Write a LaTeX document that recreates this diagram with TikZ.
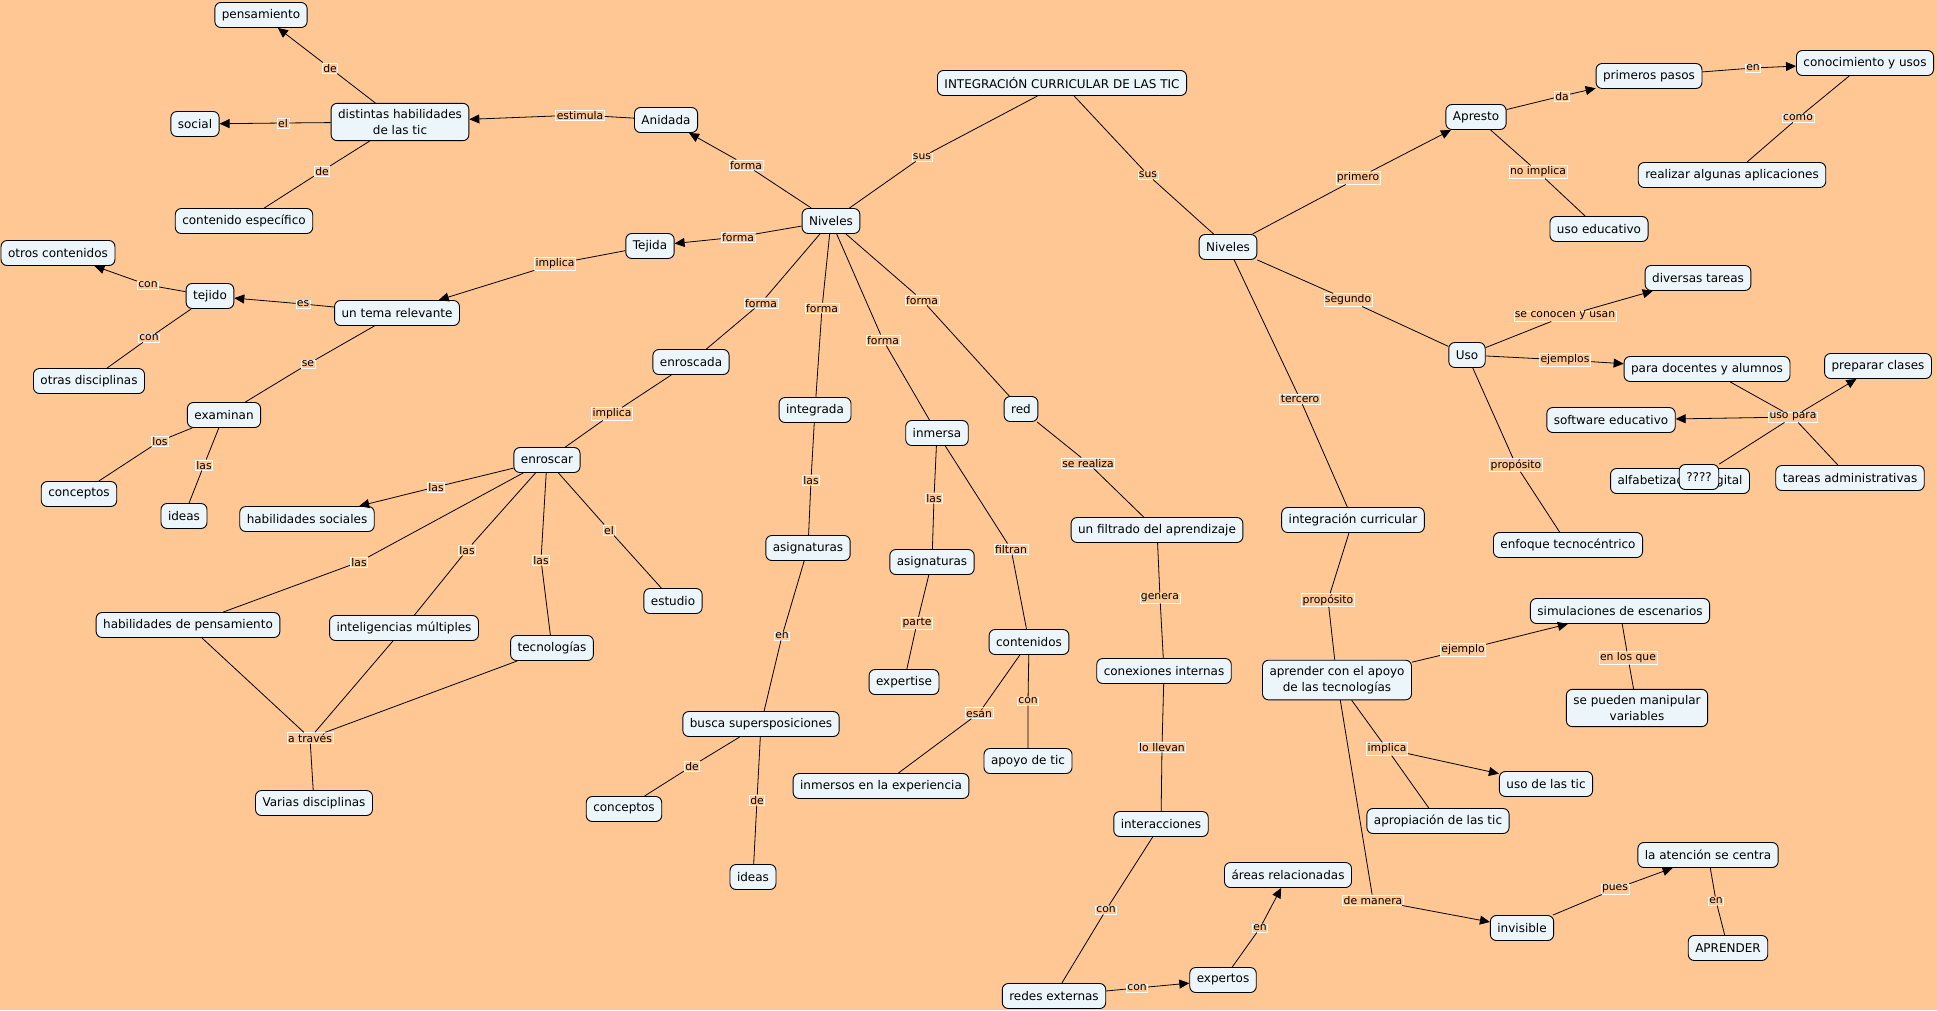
\documentclass[tikz,border=0pt]{standalone}
\usepackage{fontspec}
\setmainfont{DejaVu Sans}
\usepackage{xcolor}
\usetikzlibrary{arrows.meta}
\definecolor{bgPeach}{RGB}{255,199,148}
\definecolor{boxFill}{RGB}{236,245,250}

\begin{document}
\begin{tikzpicture}[
  x=1pt, y=-1pt,
  conceptBox/.style={draw, rounded corners=6pt, fill=boxFill, line width=0.9pt,
                     font=\fontsize{12}{16}\selectfont, inner xsep=7pt,
                     inner ysep=6pt, minimum height=25pt, align=center},
  linkText/.style={draw=white, fill=bgPeach, line width=0.6pt,
                   font=\fontsize{10.8}{12}\selectfont, inner xsep=1pt, inner ysep=1pt},
  >={Triangle[length=10pt,width=9pt]}
]
  % Page and background
  \useasboundingbox (0,0) rectangle (1937,1010);
  \fill[bgPeach] (0,0) rectangle (1937,1010);

  % Root and the two level nodes
  \node[conceptBox] (int) at (1062,83) {INTEGRACIÓN CURRICULAR DE LAS TIC};
  \node[conceptBox] (nivA) at (831,221) {Niveles};
  \node[conceptBox] (nivB) at (1228,247) {Niveles};

  % Left branch -- forms of integration
  \node[conceptBox] (anidada) at (666,120) {Anidada};
  \node[conceptBox] (tejida) at (650,246) {Tejida};
  \node[conceptBox] (enroscada) at (691,362) {enroscada};
  \node[conceptBox] (integrada) at (815,410) {integrada};
  \node[conceptBox] (inmersa) at (937,433) {inmersa};
  \node[conceptBox] (red) at (1021,409) {red};

  % Anidada
  \node[conceptBox] (distintas) at (400,122) {distintas habilidades\\de las tic};
  \node[conceptBox] (pensamiento) at (261,15) {pensamiento};
  \node[conceptBox] (social) at (195,124) {social};
  \node[conceptBox] (contEsp) at (244,221) {contenido específico};

  % Tejida
  \node[conceptBox] (tema) at (397,313) {un tema relevante};
  \node[conceptBox] (tejido) at (210,296) {tejido};
  \node[conceptBox] (otrosCont) at (58,253) {otros contenidos};
  \node[conceptBox] (otrasDisc) at (89,381) {otras disciplinas};
  \node[conceptBox] (examinan) at (224,415) {examinan};
  \node[conceptBox] (concA) at (79,494) {conceptos};
  \node[conceptBox] (ideasA) at (184,516) {ideas};

  % Enroscada
  \node[conceptBox] (enroscar) at (547,460) {enroscar};
  \node[conceptBox] (habSoc) at (307,519) {habilidades sociales};
  \node[conceptBox] (estudio) at (673,601) {estudio};
  \node[conceptBox] (habPens) at (188,625) {habilidades de pensamiento};
  \node[conceptBox] (intelig) at (404,628) {inteligencias múltiples};
  \node[conceptBox] (tecno) at (552,648) {tecnologías};
  \node[conceptBox] (varias) at (314,803) {Varias disciplinas};

  % Integrada
  \node[conceptBox] (asigA) at (808,548) {asignaturas};
  \node[conceptBox] (busca) at (761,724) {busca supersposiciones};
  \node[conceptBox] (concB) at (624,809) {conceptos};
  \node[conceptBox] (ideasB) at (753,877) {ideas};

  % Inmersa
  \node[conceptBox] (asigB) at (932,562) {asignaturas};
  \node[conceptBox] (expertise) at (904,682) {expertise};
  \node[conceptBox] (contenidos) at (1029,642) {contenidos};
  \node[conceptBox] (inmersos) at (881,786) {inmersos en la experiencia};
  \node[conceptBox] (apoyo) at (1028,761) {apoyo de tic};

  % Red
  \node[conceptBox] (filtrado) at (1157,530) {un filtrado del aprendizaje};
  \node[conceptBox] (conexiones) at (1164,671) {conexiones internas};
  \node[conceptBox] (interacc) at (1161,824) {interacciones};
  \node[conceptBox] (redes) at (1054,996) {redes externas};
  \node[conceptBox] (expertos) at (1223,980) {expertos};
  \node[conceptBox] (areas) at (1288,875) {áreas relacionadas};

  % Right branch -- Apresto
  \node[conceptBox] (apresto) at (1476,117) {Apresto};
  \node[conceptBox] (primeros) at (1649,76) {primeros pasos};
  \node[conceptBox] (conocim) at (1865,63) {conocimiento y usos};
  \node[conceptBox] (realizar) at (1732,175) {realizar algunas aplicaciones};
  \node[conceptBox] (usoEduc) at (1599,229) {uso educativo};

  % Uso
  \node[conceptBox] (uso) at (1467,355) {Uso};
  \node[conceptBox] (diversas) at (1698,278) {diversas tareas};
  \node[conceptBox] (paraDoc) at (1707,369) {para docentes y alumnos};
  \node[conceptBox] (preparar) at (1878,366) {preparar clases};
  \node[conceptBox] (software) at (1611,420) {software educativo};
  \node[conceptBox] (alfab) at (1680,481) {alfabetización digital};
  \node[conceptBox] (interrog) at (1699,477) {????};
  \node[conceptBox] (tareas) at (1850,478) {tareas administrativas};
  \node[conceptBox] (enfoque) at (1568,545) {enfoque tecnocéntrico};

  % Integración curricular
  \node[conceptBox] (integCurr) at (1353,520) {integración curricular};
  \node[conceptBox] (aprender) at (1337,680) {aprender con el apoyo\\de las tecnologías};
  \node[conceptBox] (simul) at (1620,611) {simulaciones de escenarios};
  \node[conceptBox] (manipular) at (1637,708) {se pueden manipular\\variables};
  \node[conceptBox] (usoTic) at (1546,784) {uso de las tic};
  \node[conceptBox] (apropia) at (1438,821) {apropiación de las tic};
  \node[conceptBox] (invisible) at (1522,928) {invisible};
  \node[conceptBox] (atencion) at (1708,855) {la atención se centra};
  \node[conceptBox] (aprenderMay) at (1728,948) {APRENDER};

  % Linking phrases
  \node[linkText] (susA) at (922,157) {sus};
  \node[linkText] (susB) at (1148,175) {sus};
  \node[linkText] (formaA) at (746,165) {forma};
  \node[linkText] (formaT) at (738,237) {forma};
  \node[linkText] (formaE) at (761,303) {forma};
  \node[linkText] (formaI) at (822,308) {forma};
  \node[linkText] (formaM) at (883,340) {forma};
  \node[linkText] (formaR) at (922,300) {forma};
  \node[linkText] (estimula) at (580,115) {estimula};
  \node[linkText] (deA) at (330,68) {de};
  \node[linkText] (elA) at (283,123) {el};
  \node[linkText] (deB) at (322,171) {de};
  \node[linkText] (implicaA) at (555,264) {implica};
  \node[linkText] (es) at (303,304) {es};
  \node[linkText] (conA) at (148,285) {con};
  \node[linkText] (conB) at (149,338) {con};
  \node[linkText] (se) at (308,364) {se};
  \node[linkText] (los) at (160,441) {los};
  \node[linkText] (lasA) at (204,465) {las};
  \node[linkText] (implicaB) at (612,414) {implica};
  \node[linkText] (lasB) at (436,487) {las};
  \node[linkText] (lasC) at (359,562) {las};
  \node[linkText] (lasD) at (467,550) {las};
  \node[linkText] (lasE) at (541,560) {las};
  \node[linkText] (elB) at (609,530) {el};
  \node[linkText] (atraves) at (310,738) {a través};
  \node[linkText] (lasF) at (811,480) {las};
  \node[linkText] (enA) at (782,636) {en};
  \node[linkText] (deC) at (692,766) {de};
  \node[linkText] (deD) at (757,800) {de};
  \node[linkText] (lasG) at (934,498) {las};
  \node[linkText] (parte) at (917,623) {parte};
  \node[linkText] (filtran) at (1011,549) {filtran};
  \node[linkText] (esan) at (979,713) {esán};
  \node[linkText] (conC) at (1028,701) {con};
  \node[linkText] (serealiza) at (1088,463) {se realiza};
  \node[linkText] (genera) at (1160,598) {genera};
  \node[linkText] (lollevan) at (1162,747) {lo llevan};
  \node[linkText] (conD) at (1106,910) {con};
  \node[linkText] (conE) at (1137,988) {con};
  \node[linkText] (enB) at (1260,928) {en};
  \node[linkText] (primero) at (1358,178) {primero};
  \node[linkText] (da) at (1562,96) {da};
  \node[linkText] (enC) at (1753,68) {en};
  \node[linkText] (como) at (1798,118) {como};
  \node[linkText] (noimplica) at (1538,172) {no implica};
  \node[linkText] (segundo) at (1348,300) {segundo};
  \node[linkText] (seconocen) at (1565,316) {se conocen y usan};
  \node[linkText] (ejemplos) at (1565,360) {ejemplos};
  \node[linkText] (usopara) at (1793,417) {uso para};
  \node[linkText] (propA) at (1516,465) {propósito};
  \node[linkText] (tercero) at (1300,399) {tercero};
  \node[linkText] (propB) at (1328,600) {propósito};
  \node[linkText] (ejemplo) at (1463,650) {ejemplo};
  \node[linkText] (enlosque) at (1628,658) {en los que};
  \node[linkText] (implicaC) at (1387,749) {implica};
  \node[linkText] (demanera) at (1373,900) {de manera};
  \node[linkText] (pues) at (1615,889) {pues};
  \node[linkText] (enD) at (1716,901) {en};

  % Connectors
  \begin{scope}[line width=0.8pt]
    \draw (int) -- (susA) -- (nivA);
    \draw (int) -- (susB) -- (nivB);
    \draw[->] (nivA) -- (formaA) -- (anidada);
    \draw[->] (nivA) -- (formaT) -- (tejida);
    \draw (nivA) -- (formaE) -- (enroscada);
    \draw (nivA) -- (formaI) -- (integrada);
    \draw (nivA) -- (formaM) -- (inmersa);
    \draw (nivA) -- (formaR) -- (red);

    \draw[->] (anidada) -- (estimula) -- (distintas);
    \draw[->] (distintas) -- (deA) -- (pensamiento);
    \draw[->] (distintas) -- (elA) -- (social);
    \draw (distintas) -- (deB) -- (contEsp);

    \draw[->] (tejida) -- (implicaA) -- (tema);
    \draw[->] (tema) -- (es) -- (tejido);
    \draw[->] (tejido) -- (conA) -- (otrosCont);
    \draw (tejido) -- (conB) -- (otrasDisc);
    \draw (tema) -- (se) -- (examinan);
    \draw (examinan) -- (los) -- (concA);
    \draw (examinan) -- (lasA) -- (ideasA);

    \draw (enroscada) -- (implicaB) -- (enroscar);
    \draw[->] (enroscar) -- (lasB) -- (habSoc);
    \draw (enroscar) -- (lasC) -- (habPens);
    \draw (enroscar) -- (lasD) -- (intelig);
    \draw (enroscar) -- (lasE) -- (tecno);
    \draw (enroscar) -- (elB) -- (estudio);
    \draw (habPens) -- (atraves);
    \draw (intelig) -- (atraves);
    \draw (tecno) -- (atraves);
    \draw (atraves) -- (varias);

    \draw (integrada) -- (lasF) -- (asigA) -- (enA) -- (busca);
    \draw (busca) -- (deC) -- (concB);
    \draw (busca) -- (deD) -- (ideasB);

    \draw (inmersa) -- (lasG) -- (asigB) -- (parte) -- (expertise);
    \draw (inmersa) -- (filtran) -- (contenidos);
    \draw (contenidos) -- (esan) -- (inmersos);
    \draw (contenidos) -- (conC) -- (apoyo);

    \draw (red) -- (serealiza) -- (filtrado) -- (genera) -- (conexiones)
      -- (lollevan) -- (interacc) -- (conD) -- (redes);
    \draw[->] (redes) -- (conE) -- (expertos);
    \draw[->] (expertos) -- (enB) -- (areas);

    \draw[->] (nivB) -- (primero) -- (apresto);
    \draw[->] (apresto) -- (da) -- (primeros);
    \draw[->] (primeros) -- (enC) -- (conocim);
    \draw (conocim) -- (como) -- (realizar);
    \draw (apresto) -- (noimplica) -- (usoEduc);

    \draw (nivB) -- (segundo) -- (uso);
    \draw[->] (uso) -- (seconocen) -- (diversas);
    \draw[->] (uso) -- (ejemplos) -- (paraDoc);
    \draw (paraDoc) -- (usopara);
    \draw[->] (usopara) -- (preparar);
    \draw[->] (usopara) -- (software);
    \draw (usopara) -- (interrog);
    \draw (usopara) -- (tareas);
    \draw (uso) -- (propA) -- (enfoque);

    \draw (nivB) -- (tercero) -- (integCurr) -- (propB) -- (aprender);
    \draw[->] (aprender) -- (ejemplo) -- (simul);
    \draw (simul) -- (enlosque) -- (manipular);
    \draw[->] (aprender) -- (implicaC) -- (usoTic);
    \draw (implicaC) -- (apropia);
    \draw[->] (aprender) -- (demanera) -- (invisible);
    \draw[->] (invisible) -- (pues) -- (atencion);
    \draw (atencion) -- (enD) -- (aprenderMay);
  \end{scope}
\end{tikzpicture}
\end{document}
